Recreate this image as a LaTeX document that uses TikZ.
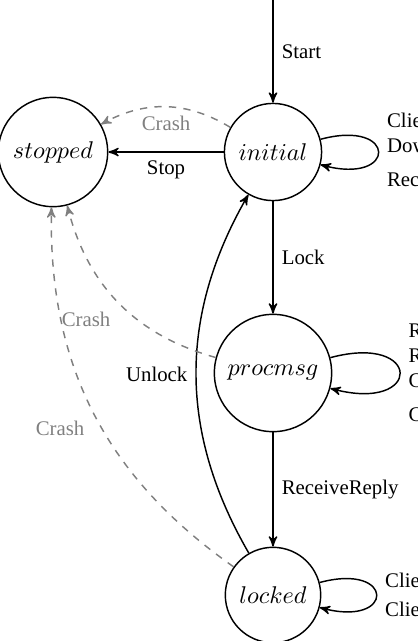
\documentclass[tikz,border=0pt]{standalone}
\usepackage{fontspec}
\setmainfont{Liberation Serif}
\usetikzlibrary{arrows}

\tikzset{every picture/.style={semithick}}

\begin{document}
\begin{tikzpicture}[x=0.4132pt,y=0.4132pt,>=stealth',
	state/.style={circle,draw,inner sep=4.3pt},
	lbl/.style={font=\fontsize{8.6}{10.3}\selectfont},
	crash/.style={->,dashed,gray}]
	\useasboundingbox (0,0) rectangle (418,-641);

	%States
	\node[state] (stopped) at (53,-152) {$stopped$};
	\node[state] (initial) at (273,-152) {$initial$};
	\node[state] (procmsg) at (273,-373) {$procmsg$};
	\node[state] (locked) at (273,-595) {$locked$};
	\coordinate (begin) at (273,0);

	%Transitions
	\draw[->] (begin) -- node[lbl,right] {Start} (initial);
	\draw[->] (initial) -- node[lbl,below] {Stop} (stopped);
	\draw[->] (initial) -- node[lbl,right] {Lock} (procmsg);
	\draw[->] (procmsg) -- node[lbl,right] {ReceiveReply} (locked);
	\draw[->] (locked) to[bend left=30] node[lbl,left] {Unlock} (initial);

	%Self loops
	\draw[->] (initial) to[loop right] node[lbl,align=left] {ClientRequest\\DownstreamReply\\[3.7pt]ReceiveRequest} (initial);
	\draw[->] (procmsg) to[loop right] node[lbl,align=left] {ReceiveRequest\\ReceiveRelease\\ClientRequest\\[3.7pt]ClientRelease} (procmsg);
	\draw[->] (locked) to[loop right] node[lbl,align=left] {ClientRequest\\[1.7pt]ClientRelease} (locked);

	%Crash
	\draw[crash] (initial) to[bend right=30] node[lbl,below] {Crash} (stopped);
	\draw[crash] (procmsg) to[bend left=30] node[lbl,auto] {Crash} (stopped);
	\draw[crash] (locked) to[bend left=28] node[lbl,auto] {Crash} (stopped);
\end{tikzpicture}
\end{document}
